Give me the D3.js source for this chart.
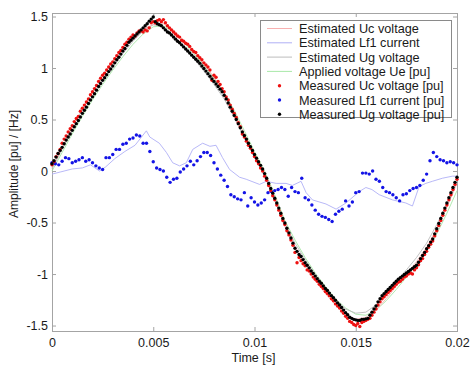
<!DOCTYPE html>
<html>
<head>
<meta charset="utf-8">
<script src="https://d3js.org/d3.v7.min.js"></script>
<style>
  body { margin: 0; background: #fff; }
  svg { display: block; font-family: Arial, "Liberation Sans", sans-serif; }
</style>
</head>
<body>
<div id="chart"></div>
<script>
// sampling step of the measured series (s)
var measStep = 0.1e-3
var lfStep = 0.02 / 120

// Measured Ug voltage [pu]
var ugMeas = [
  .07,.10,.135,.17,.20,.23,.265,.30,.33,.36,.395,.43,.46,.49,.525,.56,.59,.62,.655,.69,.72,.75,.785,.82,.85,
  .88,.905,.935,.965,.99,1.02,1.05,1.08,1.105,1.135,1.165,1.19,1.22,1.25,1.27,1.29,1.31,1.33,1.35,1.37,1.39,1.41,1.43,1.455,1.475,1.495,
  1.45,1.43,1.42,1.41,1.39,1.37,1.35,1.34,1.32,1.30,
  1.28,1.26,1.245,1.225,1.205,1.185,1.165,1.145,1.125,1.105,1.085,1.065,1.045,1.02,.995,.97,.945,.92,.895,.87,.845,.82,.795,.77,
  .735,.70,.66,.62,.58,.54,.50,.46,.42,
  .38,.345,.31,.27,.235,.20,.16,.125,.09,.055,.02,-.025,-.07,-.12,-.17,-.215,-.265,-.31,-.36,-.41,-.46,-.505,-.555,-.60,-.65,-.70,-.75,
  -.78,-.81,-.83,-.86,-.89,-.915,-.94,-.97,-.995,-1.02,
  -1.045,-1.07,-1.09,-1.115,-1.14,-1.16,-1.185,-1.21,-1.23,-1.255,-1.28,-1.30,-1.325,-1.35,-1.375,-1.395,-1.42,
  -1.43,-1.44,-1.445,-1.45,-1.45,-1.44,-1.44,-1.435,-1.43,
  -1.40,-1.37,-1.34,-1.31,-1.27,-1.24,-1.21,
  -1.19,-1.17,-1.15,-1.13,-1.11,-1.09,-1.07,-1.05,
  -1.035,-1.02,-1.005,-.99,-.975,-.96,-.945,-.93,-.915,
  -.885,-.85,-.82,-.79,-.755,-.725,-.69,-.66,
  -.61,-.56,-.51,-.46,-.41,-.36,-.31,-.26,-.21,-.16,-.11,-.06
]

// Measured Uc voltage [pu]
var ucMeas = [
  .06,.09,.14,.17,.21,
  .27,.31,.34,.38,.41,.44,.48,.51,.53,.58,.61,.64,.67,.70,.74,.77,.80,.83,.87,.90,
  .93,.95,.98,1.01,1.04,1.06,1.09,1.12,1.15,1.17,1.20,1.23,1.25,1.28,1.30,1.32,1.31,1.34,1.36,
  1.36,1.35,1.37,1.36,1.39,1.44,1.45,1.44,1.46,1.47,1.45,1.47,1.44,1.41,1.39,1.37,1.35,1.33,1.31,1.30,
  1.27,1.26,1.24,1.23,1.21,1.18,1.16,1.15,1.12,1.10,1.08,1.05,1.03,1.01,.98,.88,.93,.91,.87,.84,
  .80,.77,.72,.69,.64,.60,.56,.52,.47,.43,
  .36,.33,.29,.25,.22,.18,.14,.10,.07,.03,0,-.05,-.09,-.14,-.19,-.24,-.28,-.33,-.38,-.43,-.48,-.52,-.58,-.62,-.67,-.72,-.79,
  -.89,-.84,-.87,-.90,-.92,-.96,-.97,-1.00,-1.03,-1.05,-1.07,-1.10,-1.12,-1.14,-1.17,-1.19,-1.21,-1.24,-1.26,-1.29,-1.31,-1.33,-1.36,-1.38,-1.41,-1.43,-1.46,
  -1.47,-1.49,-1.50,-1.48,-1.51,-1.47,-1.46,-1.45,-1.44,
  -1.43,-1.40,-1.37,-1.34,-1.30,-1.27,-1.24,-1.22,-1.20,-1.18,-1.16,-1.14,-1.12,-1.10,-1.08,-1.07,-1.05,-1.03,-1.02,-1.00,-.99,-1.00,-.96,-.94,
  -.91,-.87,-.85,-.81,-.78,-.74,-.71,-.68,-.63,-.58,-.53,-.48,-.43,-.38,-.33,-.28,-.23,-.18,-.13,-.08
]

// Measured Lf1 current [pu]
var lfMeas = [
  .08,.07,.06,.095,.13,.12,.08,.095,.11,.13,.095,.11,.08,.05,.03,.015,.13,.13,.16,.21,
  .21,.26,.27,.31,.32,.35,.34,.27,.27,.19,.09,.03,.015,0,-.06,-.11,-.08,-.07,-.01,.02,
  .05,.095,.06,.10,.14,.18,.18,.15,.08,.02,-.04,-.09,-.15,-.23,-.25,-.27,-.28,-.21,-.34,-.26,
  -.30,-.33,-.31,-.28,-.21,-.20,-.19,-.18,-.16,-.18,-.245,-.16,-.20,-.21,-.07,-.26,-.28,-.33,-.38,-.42,
  -.44,-.45,-.47,-.49,-.42,-.39,-.37,-.29,-.34,-.30,-.21,-.20,-.02,-.02,-.03,0,-.08,-.10,-.16,-.20,
  -.21,-.23,-.26,-.29,-.23,-.22,-.19,-.17,-.16,-.14,-.09,-.03,.10,.18,.14,.11,.10,.08,.09,.08,
  .06
]

// Estimated Lf1 current (time in ms, value)
var lfEstT = [0,.4,1,1.5,1.9,2.35,2.65,3.1,3.6,4.1,4.66,4.83,5.3,5.65,5.96,6.3,6.63,6.95,7.44,7.8,8.1,8.42,8.77,9.26,9.59,10.25,10.58,11.07,11.56,11.87,12.3,12.55,12.86,13.53,14.03,14.52,15.17,15.5,15.8,16.16,16.81,17.47,17.8,18.13,18.46,18.78,19.28,19.77,20]
var lfEst = [-.03,-.01,.02,.03,.06,0,.04,.12,.19,.25,.39,.33,.27,.18,.08,.05,.08,.21,.27,.24,.25,.13,.015,-.06,-.08,-.13,-.10,-.12,-.12,-.14,-.10,-.21,-.28,-.32,-.37,-.31,-.20,-.16,-.18,-.23,-.28,-.31,-.34,-.15,-.12,-.10,-.07,-.05,-.05]

// Estimated voltages, every 0.5 ms
var estStep = 0.5e-3
var ucEst = [.03,.23,.42,.60,.76,.92,1.06,1.19,1.30,1.38,1.42,1.43,1.37,1.27,1.16,1.04,.91,.76,.57,.36,.16,-.05,-.28,-.54,-.74,-.91,-1.06,-1.19,-1.30,-1.39,-1.44,-1.42,-1.35,-1.24,-1.12,-1.00,-.88,-.74,-.56,-.35,-.12]
var ugEst = [.02,.21,.39,.56,.72,.87,1.01,1.14,1.26,1.36,1.42,1.40,1.32,1.21,1.09,.97,.84,.70,.52,.32,.15,-.03,-.26,-.51,-.70,-.86,-1.01,-1.14,-1.25,-1.34,-1.38,-1.37,-1.30,-1.19,-1.07,-.96,-.84,-.70,-.52,-.32,-.10]
var ueEst = [0,.18,.36,.53,.69,.84,.98,1.11,1.23,1.33,1.40,1.41,1.35,1.25,1.14,1.02,.90,.76,.59,.39,.19,0,-.23,-.48,-.67,-.84,-.99,-1.12,-1.24,-1.33,-1.39,-1.40,-1.35,-1.26,-1.15,-1.03,-.91,-.78,-.61,-.41,-.19]

var xTicks = [0, 0.005, 0.01, 0.015, 0.02]
var yTicks = [-1.5, -1, -0.5, 0, 0.5, 1, 1.5]

var legendLabels = [
  'Estimated Uc voltage',
  'Estimated Lf1 current',
  'Estimated Ug voltage',
  'Applied voltage Ue [pu]',
  'Measured Uc voltage [pu]',
  'Measured Lf1 current [pu]',
  'Measured Ug voltage [pu]'
]

var W = 474, H = 368
var plotL = 52, plotR = 457, plotT = 13, plotB = 331

var x = d3.scaleLinear().domain([0, 0.02]).range([plotL, plotR])
var y = d3.scaleLinear().domain([-1.553, 1.534]).range([plotB, plotT])

var svg = d3.select('#chart').append('svg')
  .attr('width', W)
  .attr('height', H)

var axisCol = '#a4a4a4'
var fmt = function(d){ return String(d) }

// Box axes
svg.append('rect')
  .attr('x', plotL + 0.5).attr('y', plotT + 0.5)
  .attr('width', plotR - plotL).attr('height', plotB - plotT)
  .style('fill', 'none')
  .style('stroke', axisCol)

function styleAxis(g) {
  g.select('.domain').remove()
  g.selectAll('.tick line').style('stroke', axisCol)
  g.selectAll('.tick text')
    .style('fill', '#1a1a1a')
    .style('font-size', '12.5px')
    .style('font-family', 'Arial, "Liberation Sans", sans-serif')
}

svg.append('g')
  .attr('transform', 'translate(0,' + plotB + ')')
  .call(d3.axisBottom(x).tickValues(xTicks).tickFormat(fmt).tickSizeInner(-4).tickSizeOuter(0).tickPadding(7))
  .call(styleAxis)

svg.append('g')
  .attr('transform', 'translate(0,' + plotT + ')')
  .call(d3.axisTop(x).tickValues(xTicks).tickFormat('').tickSizeInner(-4).tickSizeOuter(0))
  .call(styleAxis)

svg.append('g')
  .attr('transform', 'translate(' + plotL + ',0)')
  .call(d3.axisLeft(y).tickValues(yTicks).tickFormat(fmt).tickSizeInner(-4).tickSizeOuter(0).tickPadding(4))
  .call(styleAxis)

svg.append('g')
  .attr('transform', 'translate(' + plotR + ',0)')
  .call(d3.axisRight(y).tickValues(yTicks).tickFormat('').tickSizeInner(-4).tickSizeOuter(0))
  .call(styleAxis)

// Axis titles
svg.append('text')
  .attr('x', (plotL + plotR) / 2 - 1)
  .attr('y', 362)
  .attr('text-anchor', 'middle')
  .style('font-size', '12.5px')
  .style('fill', '#1a1a1a')
  .text('Time [s]')

svg.append('text')
  .attr('transform', 'translate(18,' + 164 + ') rotate(-90)')
  .attr('text-anchor', 'middle')
  .style('font-size', '12px')
  .style('fill', '#1a1a1a')
  .text('Amplitude [pu] / [Hz]')

var plot = svg.append('g')

// Estimated lines
var line = d3.line()
  .x(function(d){ return x(d[0]) })
  .y(function(d){ return y(d[1]) })

function regular(values, step) {
  return values.map(function(v, i){ return [i * step, v] })
}

var estSeries = [
  { data: regular(ueEst, estStep), color: '#a8e8a8' },
  { data: regular(ucEst, estStep), color: '#f8b0b0' },
  { data: regular(ugEst, estStep), color: '#bcbcbc' },
  { data: lfEstT.map(function(t, i){ return [t / 1000, lfEst[i]] }), color: '#b0b0f6' }
]

estSeries.forEach(function(s){
  plot.append('path')
    .datum(s.data)
    .attr('d', line)
    .style('fill', 'none')
    .style('stroke', s.color)
    .style('stroke-width', 0.9)
})

// Measured dots
var measSeries = [
  { data: regular(lfMeas, lfStep), color: '#1414e6' },
  { data: regular(ucMeas, measStep), color: '#ee1111' },
  { data: regular(ugMeas, measStep), color: '#000' }
]

measSeries.forEach(function(s){
  plot.append('g').selectAll('circle')
      .data(s.data)
    .enter().append('circle')
      .attr('cx', function(d){ return x(d[0]) })
      .attr('cy', function(d){ return y(d[1]) })
      .attr('r', 1.7)
      .style('fill', s.color)
})

// Legend
var lg = svg.append('g')
lg.append('rect')
  .attr('x', 260.5).attr('y', 20.5)
  .attr('width', 191).attr('height', 97)
  .style('fill', '#fff')
  .style('stroke', '#8a8a8a')

var legendMarks = [
  { type: 'line', color: '#f8b0b0' },
  { type: 'line', color: '#b0b0f6' },
  { type: 'line', color: '#bcbcbc' },
  { type: 'line', color: '#a8e8a8' },
  { type: 'dot', color: '#ee1111' },
  { type: 'dot', color: '#1414e6' },
  { type: 'dot', color: '#000' }
]

legendLabels.forEach(function(label, i){
  var ry = 28.5 + i * 14.3
  var m = legendMarks[i]
  if (m.type === 'line') {
    lg.append('line')
      .attr('x1', 267).attr('x2', 292)
      .attr('y1', ry).attr('y2', ry)
      .style('stroke', m.color)
  } else {
    lg.append('circle')
      .attr('cx', 279.5).attr('cy', ry)
      .attr('r', 1.7)
      .style('fill', m.color)
  }
  lg.append('text')
    .attr('x', 299)
    .attr('y', ry + 4.5)
    .style('font-size', '12.7px')
    .style('fill', '#1a1a1a')
    .text(label)
})
</script>
</body>
</html>
